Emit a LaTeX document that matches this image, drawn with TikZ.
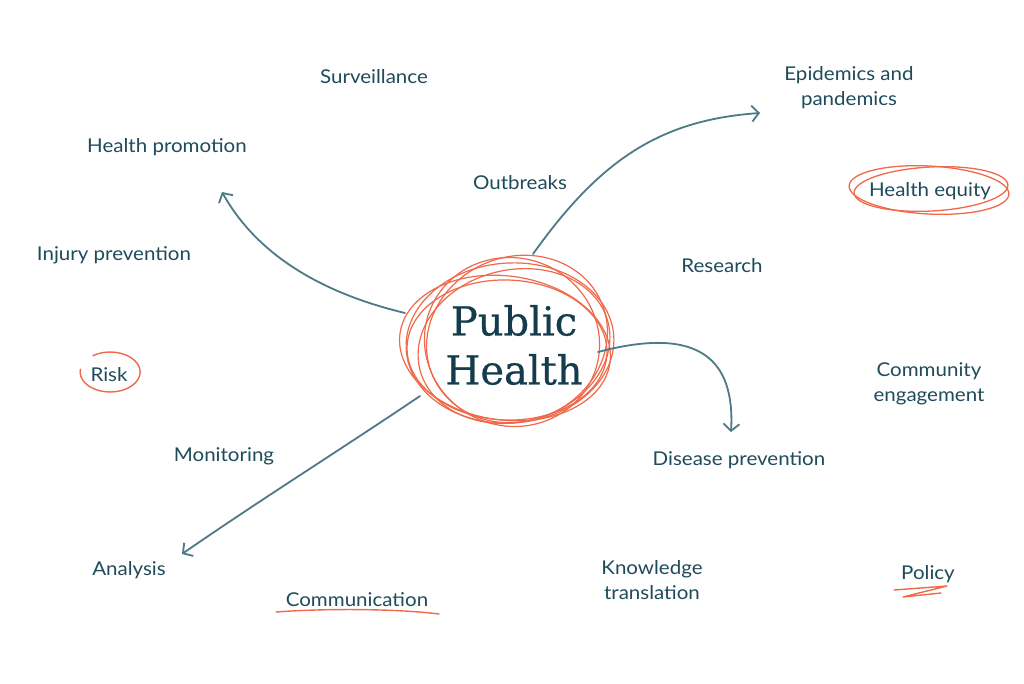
\documentclass[tikz,border=0pt]{standalone}
\usepackage{fontspec}
\setmainfont{Lato}[FakeStretch=1.08]
\newfontfamily\phfont{DejaVu Serif}[FakeBold=0.6]
\usetikzlibrary{arrows.meta}
\definecolor{txt}{HTML}{1F4B5B}
\definecolor{phtxt}{HTML}{143C4C}
\definecolor{arr}{HTML}{4E7987}
\definecolor{org}{HTML}{F0694A}
\tikzset{
  lbl/.style={text=txt,font=\fontsize{19}{25}\selectfont,align=center,inner sep=0pt},
  conn/.style={draw=arr,line width=1.8pt,line cap=round,-{Straight Barb[length=7pt,width=16pt,line width=1.8pt]}},
  scrib/.style={draw=org,line width=1.2pt},
  hmark/.style={draw=org,line width=1.4pt,line cap=round,line join=round},
}
\begin{document}
\begin{tikzpicture}[x=1pt,y=-1pt]
\useasboundingbox[fill=white] (0,0) rectangle (1024,683);
% scribble around center
\draw[scrib] (510,343) ellipse [x radius=104pt,y radius=80pt,rotate=4];
\draw[scrib] (514,346) ellipse [x radius=97pt,y radius=76pt,rotate=14];
\draw[scrib] (505,348) ellipse [x radius=106pt,y radius=72pt,rotate=-8];
\draw[scrib] (517,339) ellipse [x radius=92pt,y radius=82pt,rotate=24];
\draw[scrib] (507,350) ellipse [x radius=100pt,y radius=70pt,rotate=-2];
\draw[scrib] (512,342) ellipse [x radius=88pt,y radius=84pt,rotate=-20];
\node[text=phtxt,font=\phfont\fontsize{40}{49}\selectfont,align=center,inner sep=0pt] (ph) at (514,345) {Public\\Health};

% labels
\node[lbl] (surv) at (374,77) {Surveillance};
\node[lbl] (hp) at (167,147) {Health promotion};
\node[lbl] (ip) at (114,255) {Injury prevention};
\node[lbl] (risk) at (109,375) {Risk};
\node[lbl] (mon) at (224,456) {Monitoring};
\node[lbl] (ana) at (129,570) {Analysis};
\node[lbl] (comm) at (357,600) {Communication};
\node[lbl] (kt) at (652,580) {Knowledge\\translation};
\node[lbl] (pol) at (928,574) {Policy};
\node[lbl] (dp) at (739,460) {Disease prevention};
\node[lbl] (ce) at (929,384) {Community\\engagement};
\node[lbl] (res) at (722,266) {Research};
\node[lbl] (he) at (930,191) {Health equity};
\node[lbl] (ep) at (849,88) {Epidemics and\\pandemics};
\node[lbl] (out) at (520,183) {Outbreaks};

% marks
\draw[scrib,line width=1.3pt] (929,190) ellipse [x radius=80pt,y radius=24pt,rotate=-3];
\draw[scrib,line width=1.3pt] (931,189) ellipse [x radius=77pt,y radius=22pt,rotate=3];
\draw[hmark] (109,372) ++(125:28pt and 20pt) arc[start angle=125,end angle=-188,x radius=30pt,y radius=20pt];
\draw[hmark] (276,612) .. controls (330,608) and (400,609) .. (439,614);
\draw[hmark] (894,590) -- (947,586) -- (903,597) -- (941,593);

% arrows
\coordinate (a1s) at (533,254);
\coordinate (a1e) at (760,113);
\coordinate (a2s) at (405,313);
\coordinate (a2e) at (222,192);
\coordinate (a3s) at (598,352);
\coordinate (a3e) at (731,432);
\coordinate (a4s) at (420,396);
\coordinate (a4e) at (182,554);
\draw[conn] (a1s) .. controls (600,160) and (660,120) .. (a1e);
\draw[conn] (a2s) .. controls (330,295) and (260,260) .. (a2e);
\draw[conn] (a3s) .. controls (700,325) and (735,360) .. (a3e);
\draw[conn] (a4s) .. controls (340,450) and (260,500) .. (a4e);
\end{tikzpicture}
\end{document}
